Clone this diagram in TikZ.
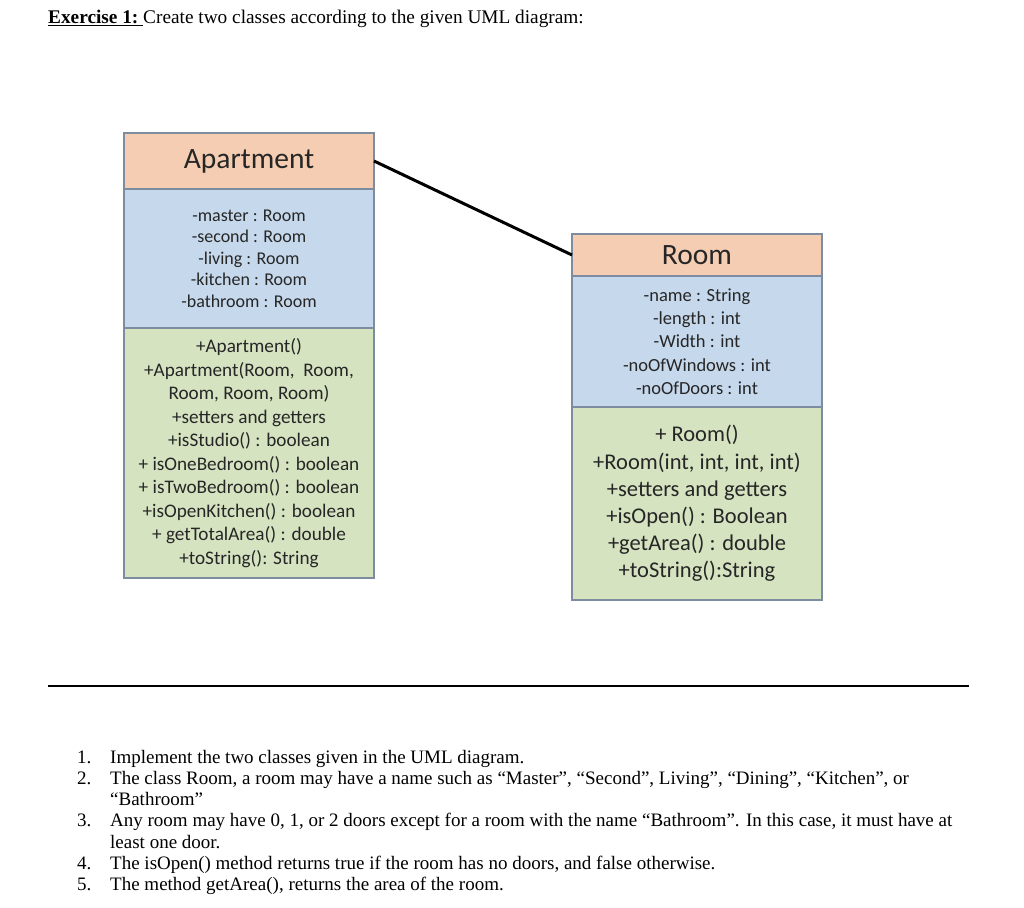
\documentclass[tikz,border=0pt]{standalone}
\usepackage{fontspec}
\setmainfont{Liberation Serif}
\newfontfamily\umlfont{Carlito}
\usetikzlibrary{positioning}
\definecolor{headpeach}{RGB}{244,205,178}
\definecolor{attrblue}{RGB}{198,216,236}
\definecolor{methgreen}{RGB}{214,227,193}
\definecolor{boxedge}{RGB}{125,140,158}
\tikzset{
  umlpart/.style={draw=boxedge, line width=1.2pt, minimum width=250pt,
    inner sep=0pt, outer sep=0pt, align=center, text=black!85},
  umlhead/.style={umlpart, fill=headpeach, font=\umlfont\fontsize{29.5}{31}\selectfont},
  umlattr/.style={umlpart, fill=attrblue},
  umlmeth/.style={umlpart, fill=methgreen}
}

\begin{document}
\begin{tikzpicture}[x=1pt, y=-1pt]
\useasboundingbox (0,0) rectangle (1024,907);

% Title
\node[anchor=base west, inner sep=0pt, font=\fontsize{19.3}{22}\selectfont] (title) at (48,24)
  {\underline{\textbf{Exercise 1:}\ }Create two classes according to the given UML diagram:};

% Apartment class
\node[umlhead, minimum height=56pt] (aptHead) at (249,161) {Apartment};
\node[umlattr, minimum height=139pt, below=0pt of aptHead,
      font=\umlfont\fontsize{18}{21.5}\selectfont] (aptAttr)
  {-master : Room\\ -second : Room\\ -living : Room\\ -kitchen : Room\\ -bathroom : Room};
\node[umlmeth, minimum height=250pt, below=0pt of aptAttr,
      font=\umlfont\fontsize{19.2}{23.5}\selectfont] (aptMeth)
  {+Apartment()\\ +Apartment(Room,\ \ Room,\\ Room, Room, Room)\\ +setters and getters\\
   +isStudio() : boolean\\ + isOneBedroom() : boolean\\ + isTwoBedroom() : boolean\\
   +isOpenKitchen() : boolean\\ + getTotalArea() : double\\ +toString(): String};

% Room class
\node[umlhead, minimum height=42pt] (roomHead) at (697,255) {Room};
\node[umlattr, minimum height=131pt, below=0pt of roomHead,
      font=\umlfont\fontsize{18.5}{23.3}\selectfont] (roomAttr)
  {-name : String\\ -length : int\\ -Width : int\\ -noOfWindows : int\\ -noOfDoors : int};
\node[umlmeth, minimum height=193pt, below=0pt of roomAttr,
      font=\umlfont\fontsize{22.5}{27.2}\selectfont] (roomMeth)
  {+ Room()\\ +Room(int, int, int, int)\\ +setters and getters\\
   +isOpen() : Boolean\\ +getArea() : double\\ +toString():String};

% Association
\draw[line width=3pt] (aptHead.east) -- (roomHead.west);

% Separator
\coordinate (ruleL) at (48,686);
\coordinate (ruleR) at (969,686);
\draw[line width=2.5pt] (ruleL) -- (ruleR);

% Tasks
\node[anchor=base west, inner sep=0pt, font=\fontsize{19}{21.3}\selectfont] (tasks) at (77,763)
  {\begin{tabular}[t]{@{}p{33pt}@{}l@{}}
   1. & Implement the two classes given in the UML diagram.\\
   2. & The class Room, a room may have a name such as “Master”, “Second”, Living”, “Dining”, “Kitchen”, or\\
      & “Bathroom”\\
   3. & Any room may have 0, 1, or 2 doors except for a room with the name “Bathroom”. In this case, it must have at\\
      & least one door.\\
   4. & The isOpen() method returns true if the room has no doors, and false otherwise.\\
   5. & The method getArea(), returns the area of the room.
   \end{tabular}};

\end{tikzpicture}
\end{document}
